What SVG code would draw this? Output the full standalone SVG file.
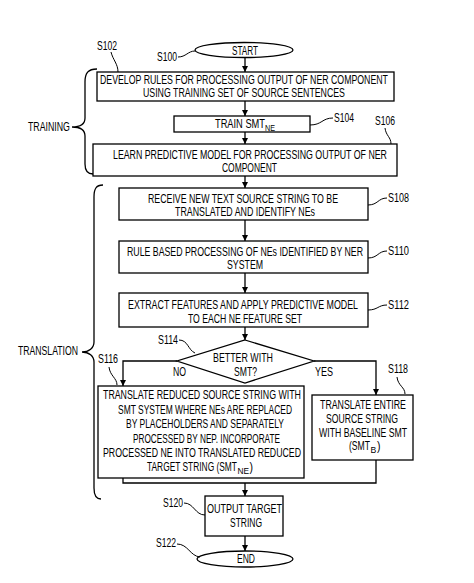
<svg xmlns="http://www.w3.org/2000/svg" width="474" height="583" viewBox="0 0 474 583">
<style>
.b{fill:#fff;stroke:#000;stroke-width:1.3}
.l{fill:none;stroke:#000;stroke-width:1.3}
.ld{fill:none;stroke:#000;stroke-width:1}
text{font-family:"Liberation Sans",Arial,sans-serif;font-size:12px;fill:#000}
.s{font-size:9px}
</style>
<defs>
<marker id="ah" markerWidth="8" markerHeight="8" refX="6" refY="3" orient="auto" markerUnits="userSpaceOnUse">
<path d="M0,0 L6,3 L0,6 Z" fill="#000"/>
</marker>
</defs>
<rect width="474" height="583" fill="#fff"/>

<g id="connectors">
<line class="l" x1="245" y1="58" x2="245" y2="72" marker-end="url(#ah)"/>
<line class="l" x1="245" y1="101" x2="245" y2="116" marker-end="url(#ah)"/>
<line class="l" x1="245" y1="132" x2="245" y2="144" marker-end="url(#ah)"/>
<line class="l" x1="245" y1="176" x2="245" y2="188" marker-end="url(#ah)"/>
<line class="l" x1="245" y1="220" x2="245" y2="241" marker-end="url(#ah)"/>
<line class="l" x1="245" y1="273" x2="245" y2="293" marker-end="url(#ah)"/>
<line class="l" x1="245" y1="327" x2="245" y2="340" marker-end="url(#ah)"/>
<polyline class="l" points="177,361 123,361 123,386" marker-end="url(#ah)"/>
<polyline class="l" points="314,361 376,361 376,395" marker-end="url(#ah)"/>
<polyline class="l" points="123,478 123,483 376,483 376,460"/>
<line class="l" x1="245" y1="483" x2="245" y2="496" marker-end="url(#ah)"/>
<line class="l" x1="245" y1="536" x2="245" y2="551" marker-end="url(#ah)"/>
<text transform="translate(173,376) scale(0.77,1)" textLength="16.9" lengthAdjust="spacingAndGlyphs">NO</text>
<text transform="translate(315,376) scale(0.77,1)" textLength="23.4" lengthAdjust="spacingAndGlyphs">YES</text>
</g>

<g id="training-brace">
<path class="l" d="M97,69 C88,69 85,73 85,82 L85,118 C85,124 80,127 72,127 C80,127 85,130 85,136 L85,164 C85,171 88,174 93,174"/>
<text transform="translate(28,131) scale(0.77,1)" textLength="54.5" lengthAdjust="spacingAndGlyphs">TRAINING</text>
</g>

<g id="translation-brace">
<path class="l" d="M103,185 C96,185 94,189 94,197 L94,342 C94,348 89,352 82,352 C89,352 94,356 94,362 L94,488 C94,495 96,499 101,499"/>
<text transform="translate(18,355) scale(0.77,1)" textLength="77.9" lengthAdjust="spacingAndGlyphs">TRANSLATION</text>
</g>

<g id="S100">
<ellipse class="b" cx="244" cy="50" rx="49" ry="7.5"/>
<text transform="translate(232,55) scale(0.77,1)" textLength="33.8" lengthAdjust="spacingAndGlyphs">START</text>
<path class="ld" d="M178,57 C186,57 188,51 195,51"/>
<text transform="translate(157,61) scale(0.77,1)" textLength="26" lengthAdjust="spacingAndGlyphs">S100</text>
</g>

<g id="S102">
<rect class="b" x="97" y="72" width="297" height="29"/>
<text transform="translate(100,84) scale(0.77,1)" textLength="374" lengthAdjust="spacingAndGlyphs">DEVELOP RULES FOR PROCESSING OUTPUT OF NER COMPONENT</text>
<text transform="translate(143,97) scale(0.77,1)" textLength="262.3" lengthAdjust="spacingAndGlyphs">USING TRAINING SET OF SOURCE SENTENCES</text>
<path class="ld" d="M111,52 C113,60 118,64 118,72"/>
<text transform="translate(97,50) scale(0.77,1)" textLength="26" lengthAdjust="spacingAndGlyphs">S102</text>
</g>

<g id="S104">
<rect class="b" x="174" y="116" width="136" height="16"/>
<text transform="translate(215,128) scale(0.77,1)" textLength="64.9" lengthAdjust="spacingAndGlyphs">TRAIN SMT</text>
<text class="s" transform="translate(265,131) scale(0.77,1)" textLength="13" lengthAdjust="spacingAndGlyphs">NE</text>
<path class="ld" d="M310,125 C322,125 322,118 333,118"/>
<text transform="translate(334,122) scale(0.77,1)" textLength="26" lengthAdjust="spacingAndGlyphs">S104</text>
</g>

<g id="S106">
<rect class="b" x="93" y="144" width="304" height="32"/>
<text transform="translate(113,159) scale(0.77,1)" textLength="355.8" lengthAdjust="spacingAndGlyphs">LEARN PREDICTIVE MODEL FOR PROCESSING OUTPUT OF NER</text>
<text transform="translate(222,172) scale(0.77,1)" textLength="71.4" lengthAdjust="spacingAndGlyphs">COMPONENT</text>
<path class="ld" d="M385,128 C386,136 391,137 391,144"/>
<text transform="translate(375,125) scale(0.77,1)" textLength="26" lengthAdjust="spacingAndGlyphs">S106</text>
</g>

<g id="S108">
<rect class="b" x="119" y="188" width="249" height="32"/>
<text transform="translate(148,203) scale(0.77,1)" textLength="246.8" lengthAdjust="spacingAndGlyphs">RECEIVE NEW TEXT SOURCE STRING TO BE</text>
<text transform="translate(175,216) scale(0.77,1)" textLength="181.8" lengthAdjust="spacingAndGlyphs">TRANSLATED AND IDENTIFY NEs</text>
<path class="ld" d="M368,205 C378,205 378,198 387,198"/>
<text transform="translate(388,202) scale(0.77,1)" textLength="27.3" lengthAdjust="spacingAndGlyphs">S108</text>
</g>

<g id="S110">
<rect class="b" x="119" y="241" width="249" height="32"/>
<text transform="translate(127,256) scale(0.77,1)" textLength="306.5" lengthAdjust="spacingAndGlyphs">RULE BASED PROCESSING OF NEs IDENTIFIED BY NER</text>
<text transform="translate(227,269) scale(0.77,1)" textLength="46.8" lengthAdjust="spacingAndGlyphs">SYSTEM</text>
<path class="ld" d="M368,258 C378,258 378,251 387,251"/>
<text transform="translate(388,255) scale(0.77,1)" textLength="27.3" lengthAdjust="spacingAndGlyphs">S110</text>
</g>

<g id="S112">
<rect class="b" x="119" y="293" width="249" height="34"/>
<text transform="translate(128,309) scale(0.77,1)" textLength="298.7" lengthAdjust="spacingAndGlyphs">EXTRACT FEATURES AND APPLY PREDICTIVE MODEL</text>
<text transform="translate(188,323) scale(0.77,1)" textLength="148" lengthAdjust="spacingAndGlyphs">TO EACH NE FEATURE SET</text>
<path class="ld" d="M368,310 C378,310 378,305 387,305"/>
<text transform="translate(388,309) scale(0.77,1)" textLength="27.3" lengthAdjust="spacingAndGlyphs">S112</text>
</g>

<g id="S114">
<polygon class="b" points="245,340 314,361 245,383 177,361"/>
<text transform="translate(213,362) scale(0.77,1)" textLength="77.9" lengthAdjust="spacingAndGlyphs">BETTER WITH</text>
<text transform="translate(234,376) scale(0.77,1)" textLength="29.9" lengthAdjust="spacingAndGlyphs">SMT?</text>
<path class="ld" d="M179,340 C188,340 188,350 195,353"/>
<text transform="translate(158,344) scale(0.77,1)" textLength="26" lengthAdjust="spacingAndGlyphs">S114</text>
</g>

<g id="S116">
<rect class="b" x="98" y="386" width="206" height="92"/>
<text transform="translate(103,399) scale(0.77,1)" textLength="257.1" lengthAdjust="spacingAndGlyphs">TRANSLATE REDUCED SOURCE STRING WITH</text>
<text transform="translate(118,414) scale(0.77,1)" textLength="226" lengthAdjust="spacingAndGlyphs">SMT SYSTEM WHERE NEs ARE REPLACED</text>
<text transform="translate(126,428) scale(0.77,1)" textLength="205.2" lengthAdjust="spacingAndGlyphs">BY PLACEHOLDERS AND SEPARATELY</text>
<text transform="translate(133,443) scale(0.77,1)" textLength="190.9" lengthAdjust="spacingAndGlyphs">PROCESSED BY NEP. INCORPORATE</text>
<text transform="translate(103,457) scale(0.77,1)" textLength="257.1" lengthAdjust="spacingAndGlyphs">PROCESSED NE INTO TRANSLATED REDUCED</text>
<text transform="translate(147,471) scale(0.69,1)" textLength="130.4" lengthAdjust="spacingAndGlyphs">TARGET STRING (SMT</text>
<text class="s" transform="translate(237.5,474) scale(0.77,1)" textLength="15" lengthAdjust="spacingAndGlyphs">NE</text>
<text transform="translate(249.5,471) scale(0.77,1)" textLength="4.5" lengthAdjust="spacingAndGlyphs">)</text>
<path class="ld" d="M109,367 C110,376 117,378 117,385"/>
<text transform="translate(98,363) scale(0.77,1)" textLength="26" lengthAdjust="spacingAndGlyphs">S116</text>
</g>

<g id="S118">
<rect class="b" x="312" y="395" width="101" height="65"/>
<text transform="translate(320,409) scale(0.77,1)" textLength="111.7" lengthAdjust="spacingAndGlyphs">TRANSLATE ENTIRE</text>
<text transform="translate(326,423) scale(0.77,1)" textLength="93.5" lengthAdjust="spacingAndGlyphs">SOURCE STRING</text>
<text transform="translate(319,437) scale(0.77,1)" textLength="114.3" lengthAdjust="spacingAndGlyphs">WITH BASELINE SMT</text>
<text transform="translate(349,450) scale(0.72,1)" textLength="29.2" lengthAdjust="spacingAndGlyphs">(SMT</text>
<text class="s" transform="translate(370.5,453) scale(0.77,1)" textLength="7.5" lengthAdjust="spacingAndGlyphs">B</text>
<text transform="translate(377,450) scale(0.77,1)" textLength="4.5" lengthAdjust="spacingAndGlyphs">)</text>
<path class="ld" d="M397,377 C398,386 405,387 405,394"/>
<text transform="translate(388,373) scale(0.77,1)" textLength="26" lengthAdjust="spacingAndGlyphs">S118</text>
</g>

<g id="S120">
<rect class="b" x="205" y="496" width="78" height="40"/>
<text transform="translate(207,513) scale(0.77,1)" textLength="97.4" lengthAdjust="spacingAndGlyphs">OUTPUT TARGET</text>
<text transform="translate(230,527) scale(0.77,1)" textLength="41.6" lengthAdjust="spacingAndGlyphs">STRING</text>
<path class="ld" d="M184,503 C194,503 195,515 205,515"/>
<text transform="translate(163,507) scale(0.77,1)" textLength="26" lengthAdjust="spacingAndGlyphs">S120</text>
</g>

<g id="S122">
<ellipse class="b" cx="245" cy="559" rx="48" ry="8"/>
<text transform="translate(237,563) scale(0.77,1)" textLength="23.4" lengthAdjust="spacingAndGlyphs">END</text>
<path class="ld" d="M177,544 C188,544 190,556 200,557"/>
<text transform="translate(156,547) scale(0.77,1)" textLength="26" lengthAdjust="spacingAndGlyphs">S122</text>
</g>
</svg>
